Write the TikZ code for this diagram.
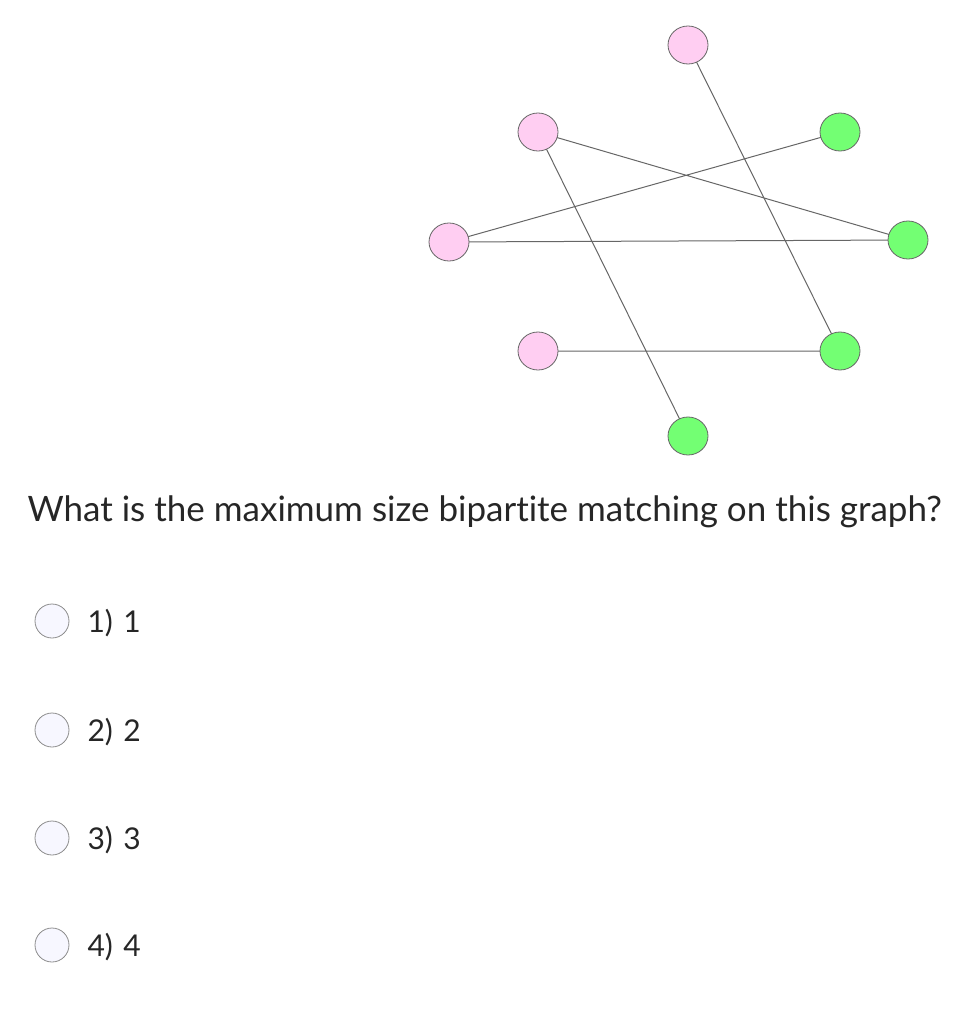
\documentclass[tikz,border=0pt]{standalone}
\usepackage{fontspec}
\setmainfont{Lato}[Ligatures={NoCommon}]
\usetikzlibrary{shapes.geometric}
\begin{document}
\begin{tikzpicture}[x=1pt,y=-1pt,
  pk/.style={ellipse,draw=black!60,fill=pink!60!magenta!35!white,minimum width=40pt,minimum height=38pt,inner sep=0pt,line width=0.8pt},
  gr/.style={ellipse,draw=black!60,fill=green!55!white,minimum width=40pt,minimum height=38pt,inner sep=0pt,line width=0.8pt},
  ed/.style={draw=black!60,line width=1pt},
  rad/.style={circle,draw=black!45,fill=blue!3,minimum size=34pt,inner sep=0pt,line width=0.8pt},
  opt/.style={anchor=west,font=\fontsize{30}{34}\selectfont,text=black!85}]
\useasboundingbox (0,0) rectangle (974,1024);
\path (688,45) coordinate (c1) (538,132) coordinate (c2) (449,242) coordinate (c3) (538,351) coordinate (c4)
      (840,132) coordinate (c5) (908,240) coordinate (c6) (840,351) coordinate (c7) (688,436) coordinate (c8);
\path[ed] (c1) -- (c7) (c2) -- (c6) (c2) -- (c8) (c3) -- (c5) (c3) -- (c6) (c4) -- (c7);
\node[pk] (p1) at (c1) {};
\node[pk] (p2) at (c2) {};
\node[pk] (p3) at (c3) {};
\node[pk] (p4) at (c4) {};
\node[gr] (g1) at (c5) {};
\node[gr] (g2) at (c6) {};
\node[gr] (g3) at (c7) {};
\node[gr] (g4) at (c8) {};
\node[anchor=west,font=\fontsize{35}{40}\selectfont,text=black!85] (q) at (24,512) {What is the maximum size bipartite matching on this graph?};
\node[rad] (r1) at (52,621) {}; \node[opt] (o1) at (84,623) {1)\hspace{0.35em}1};
\node[rad] (r2) at (52,730) {}; \node[opt] (o2) at (84,732) {2)\hspace{0.35em}2};
\node[rad] (r3) at (52,838) {}; \node[opt] (o3) at (84,840) {3)\hspace{0.35em}3};
\node[rad] (r4) at (52,945) {}; \node[opt] (o4) at (84,947) {4)\hspace{0.35em}4};
\end{tikzpicture}
\end{document}
